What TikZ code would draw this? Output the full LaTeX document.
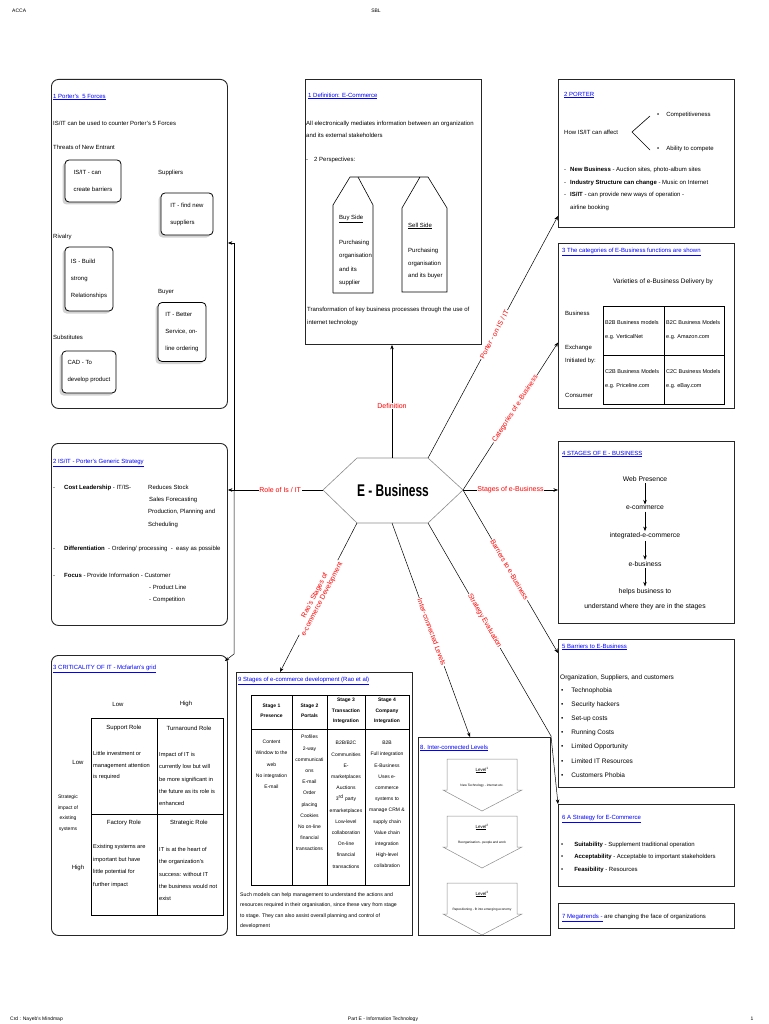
\documentclass[tikz,border=0pt]{standalone}
\usepackage{fontspec}
\setmainfont{Liberation Sans}
\usetikzlibrary{arrows.meta,calc,shadows}

\tikzset{
  panel/.style={draw=black!85, line width=0.9pt, anchor=north west, inner sep=0pt},
  rpanel/.style={panel, rounded corners=7pt},
  txt/.style={anchor=west, inner sep=0pt, align=left, font=\fontsize{6}{12.5}\selectfont},
  ttl/.style={txt, text=blue},
  ctr/.style={inner sep=0pt, align=center, font=\fontsize{6}{12.5}\selectfont},
  forcebox/.style={draw, line width=0.8pt, rounded corners=4pt, fill=white, align=left, inner sep=3pt,
    font=\fontsize{6}{17}\selectfont, drop shadow={fill=black!35, shadow xshift=-2.5pt, shadow yshift=-2.5pt}},
  link/.style={-{Stealth[length=4.5pt,width=3.5pt]}, line width=0.5pt},
  branch/.style={text=red, fill=white, inner sep=0.8pt, font=\fontsize{7}{8}\selectfont},
  stagetxt/.style={inner sep=1.5pt, align=center, font=\fontsize{6.8}{9}\selectfont},
  colbody/.style={anchor=north, inner sep=0pt, align=center, font=\fontsize{5}{11.2}\selectfont},
  chev/.style={draw=black!45, line width=0.5pt},
}

\begin{document}
\begin{tikzpicture}[x=1pt, y=-1pt]
\useasboundingbox (0,0) rectangle (768,1024);

\node[txt, font=\fontsize{5}{6}\selectfont] (hd1) at (12,11) {ACCA};
\node[ctr, font=\fontsize{5}{6}\selectfont] (hd2) at (376,11) {SBL};
\node[txt, font=\fontsize{5}{6}\selectfont] (ft1) at (10,1019) {Crd : Nayeb's Mindmap};
\node[ctr, font=\fontsize{5}{6}\selectfont] (ft2) at (383,1019) {Part E - Information Technology};
\node[ctr, font=\fontsize{5}{6}\selectfont] (ft3) at (752,1019) {1};

\node[rpanel, minimum width=176pt, minimum height=329pt] (forces) at (51,79) {};
\node[rpanel, minimum width=176pt, minimum height=182pt] (isit) at (51,443) {};
\node[rpanel, minimum width=176pt, minimum height=280pt] (crit) at (51,655) {};
\node[panel, minimum width=176pt, minimum height=265pt] (def) at (305,79) {};
\node[panel, minimum width=176pt, minimum height=263pt] (rao) at (236,672) {};
\node[panel, minimum width=132pt, minimum height=198pt] (levels) at (418,737) {};
\node[panel, minimum width=176pt, minimum height=148pt] (porter) at (558,79) {};
\node[panel, minimum width=176pt, minimum height=165pt] (cats) at (558,243) {};
\node[panel, minimum width=176pt, minimum height=182pt] (stages) at (558,441) {};
\node[panel, minimum width=176pt, minimum height=148pt] (barr) at (558,639) {};
\node[panel, minimum width=176pt, minimum height=82pt] (strat) at (558,804) {};
\node[panel, minimum width=176pt, minimum height=25pt] (mega) at (558,903) {};

\node[ttl] (f0) at (53,97) {\underline{1 Porter's\ \ 5 Forces}};
\node[txt] (f1) at (53,123) {IS/IT can be used to counter Porter's 5 Forces};
\node[txt] (f2) at (53,147) {Threats of New Entrant};
\node[forcebox, minimum width=56pt, minimum height=42pt] (fe) at (93,181) {IS/IT - can\\create barriers};
\node[txt] (f3) at (158,173) {Suppliers};
\node[forcebox, minimum width=52pt, minimum height=42pt] (fs) at (187,214) {IT - find new\\suppliers};
\node[txt] (f4) at (53,237) {Rivalry};
\node[forcebox, minimum width=48pt, minimum height=64pt] (fr) at (89,279) {IS - Build\\strong\\Relationships};
\node[txt] (f5) at (158,292) {Buyer};
\node[forcebox, minimum width=48pt, minimum height=59pt] (fb) at (182,332) {IT - Better\\Service, on-\\line ordering};
\node[txt] (f6) at (53,337) {Substitutes};
\node[forcebox, minimum width=54pt, minimum height=42pt] (fc) at (89,372) {CAD - To\\develop product};

\node[ttl] (g0) at (53,463) {\underline{2 IS/IT - Porter's Generic Strategy}};
\node[txt] (g1) at (53,488) {-\hspace{9pt}\textbf{Cost Leadership} - IT/IS-};
\node[txt, font=\fontsize{6}{12.3}\selectfont] (g2) at (148,506) {Reduces Stock\\\hspace{1pt}Sales Forecasting\\Production, Planning and\\Scheduling};
\node[txt] (g3) at (53,549) {-\hspace{9pt}\textbf{Differentiation}\ \ - Ordering/ processing\ \ -\ \ easy as possible};
\node[txt] (g4) at (53,575) {-\hspace{9pt}\textbf{Focus} - Provide Information - Customer};
\node[txt, font=\fontsize{6}{12}\selectfont] (g5) at (149,594) {- Product Line\\- Competition};

\node[ttl] (c0) at (53,669) {\underline{3 CRITICALITY OF IT - Mcfarlan's grid}};
\node[ctr] (c1) at (118,704) {Low};
\node[ctr] (c2) at (186,704) {High};
\draw[line width=0.8pt] (91,718) rectangle (223,915) (157,718) -- (157,915) (91,814) -- (223,814);
\node[ctr] (c3) at (78,762) {Low};
\node[ctr, font=\fontsize{5}{10.5}\selectfont] (c4) at (68,813) {Strategic\\impact of\\existing\\systems};
\node[ctr] (c5) at (78,868) {High};
\node[ctr] (c6) at (124,728) {Support Role};
\node[ctr] (c7) at (189,728) {Turnaround Role};
\node[ctr] (c8) at (124,823) {Factory Role};
\node[ctr] (c9) at (189,823) {Strategic Role};
\node[txt, font=\fontsize{5.7}{11.5}\selectfont] (c10) at (93,766) {Little investment or\\management attention\\is required};
\node[txt, font=\fontsize{5.7}{12.2}\selectfont] (c11) at (159,779) {Impact of IT is\\currently low but will\\be more significant in\\the future as its role is\\enhanced};
\node[txt, font=\fontsize{5.7}{12.4}\selectfont] (c12) at (93,866) {Existing systems are\\important but have\\little potential for\\further impact};
\node[txt, font=\fontsize{5.7}{12.4}\selectfont] (c13) at (159,874) {IT is at the heart of\\the organization's\\success: without IT\\the business would not\\exist};

\node[ttl] (d0) at (308,96) {\underline{1 Definition: E-Commerce}};
\node[txt, font=\fontsize{6}{12}\selectfont] (d1) at (306,129) {All electronically mediates information between an organization\\and its external stakeholders};
\node[txt] (d2) at (306,160) {-\hspace{6pt}2 Perspectives:};
\draw[line width=0.6pt] (333,293) -- (333,205) -- (350,177) -- (428,177) -- (447,208) -- (447,292) -- (402,292) -- (402,208) -- (420,177);
\draw[line width=0.6pt] (358,177) -- (373,205) -- (373,293) -- (333,293);
\node[txt] (d3) at (339,219) {\underline{Buy Side}};
\node[txt, font=\fontsize{6}{13.2}\selectfont] (d4) at (339,263) {Purchasing\\organisation\\and its\\supplier};
\node[txt] (d5) at (408,226) {\underline{Sell Side}};
\node[txt, font=\fontsize{6}{12.6}\selectfont] (d6) at (408,263.5) {Purchasing\\organisation\\and its buyer};
\node[txt, font=\fontsize{6}{12.5}\selectfont] (d7) at (307,316.5) {Transformation of key business processes through the use of\\internet technology};

\node[ttl] (q0) at (238,681) {\underline{9 Stages of e-commerce development (Rao et al)}};
\draw[line width=0.8pt] (251,695) rectangle (409,885) (251,729) -- (409,729) (292,695) -- (292,885)
  (327,695) -- (327,885) (365,695) -- (365,885);
\node[ctr, font=\bfseries\fontsize{5}{10.3}\selectfont] (q1) at (271.5,711) {Stage 1\\Presence};
\node[ctr, font=\bfseries\fontsize{5}{10.3}\selectfont] (q2) at (309.5,711) {Stage 2\\Portals};
\node[ctr, font=\bfseries\fontsize{5}{10.3}\selectfont] (q3) at (346,711) {Stage 3\\Transaction\\Integration};
\node[ctr, font=\bfseries\fontsize{5}{10.3}\selectfont] (q4) at (387,711) {Stage 4\\Company\\Integration};
\node[colbody] (q5) at (271.5,740) {Content\\Window to the\\web\\No integration\\E-mail};
\node[colbody] (q6) at (309.5,735) {Profiles\\2-way\\communicati\\ons\\E-mail\\Order\\placing\\Cookies\\No on-line\\financial\\transactions};
\node[colbody] (q7) at (346,741) {B2B/B2C\\Communities\\E-\\marketplaces\\Auctions\\3\textsuperscript{rd} party\\emarketplaces\\Low-level\\collaboration\\On-line\\financial\\transactions};
\node[colbody] (q8) at (387,741) {B2B\\Full integration\\E-Business\\Uses e-\\commerce\\systems to\\manage CRM \&\\supply chain\\Value chain\\integration\\High-level\\collabration};
\node[txt, font=\fontsize{5.2}{10.5}\selectfont] (q9) at (240,910.5) {Such models can help management to understand the actions and\\resources required in their organisation, since these vary from stage\\to stage. They can also assist overall planning and control of\\development};

\node[ttl] (l0) at (420,748) {\underline{8. Inter-connected Levels}};
\foreach \y/\desc [count=\n] in {759/New Technology - internet etc., 816/Reorganisation - people and work, 883/Repositioning - fit into emerging economy} {
  \draw[chev] (447,\y) -- (517,\y) -- (517,\y+31) -- (522,\y+31) -- (482,\y+52) -- (443,\y+31) -- (447,\y+31) -- cycle;
  \node[ctr, font=\fontsize{4.5}{5}\selectfont] (lv\n) at (482,\y+11) {\underline{Level}\textsuperscript{\n}};
  \node[ctr, font=\fontsize{3.2}{4}\selectfont] (ld\n) at (482,\y+27) {\desc};
}

\node[ttl] (p0) at (564,95) {\underline{2 PORTER}};
\node[txt] (p1) at (564,132) {How IS/IT can affect};
\draw[line width=0.6pt] (650,116) -- (632,132) -- (650,150);
\node[txt] (p2) at (657,115) {\textbullet\hspace{7pt}Competitiveness};
\node[txt] (p3) at (657,149) {\textbullet\hspace{7pt}Ability to compete};
\node[txt, font=\fontsize{6}{12.7}\selectfont] (p4) at (564,189) {-\hspace{4pt}\textbf{New Business} - Auction sites, photo-album sites\\-\hspace{4pt}\textbf{Industry Structure can change} - Music on Internet\\-\hspace{4pt}\textbf{IS/IT} - can provide new ways of operation -\\\hspace{6pt}airline booking};

\node[ttl] (k0) at (562,252) {\underline{3 The categories of E-Business functions are shown}};
\node[ctr, font=\fontsize{6.5}{8}\selectfont] (k1) at (663,282) {Varieties of e-Business Delivery by};
\draw[line width=0.9pt] (603,306) rectangle (724,404) (664,306) -- (664,404) (603,355) -- (724,355);
\node[txt] (k2) at (565,313) {Business};
\node[txt, font=\fontsize{6}{12.5}\selectfont] (k3) at (565,354.5) {Exchange\\Initiated by:};
\node[txt] (k4) at (565,395) {Consumer};
\node[txt, font=\fontsize{5.5}{13.5}\selectfont] (k5) at (605,330) {B2B Business models\\e.g. VerticalNet};
\node[txt, font=\fontsize{5.5}{13.5}\selectfont] (k6) at (666,330) {B2C Business Models\\e.g. Amazon.com};
\node[txt, font=\fontsize{5.5}{13.5}\selectfont] (k7) at (605,379) {C2B Business Models\\e.g. Priceline.com};
\node[txt, font=\fontsize{5.5}{13.5}\selectfont] (k8) at (666,379) {C2C Business Models\\e.g. eBay.com};

\node[ttl] (s0) at (562,454) {\underline{4 STAGES OF E - BUSINESS}};
\node[stagetxt] (s1) at (645,479) {Web Presence};
\node[stagetxt] (s2) at (645,508) {e-commerce};
\node[stagetxt] (s3) at (645,536) {integrated-e-commerce};
\node[stagetxt] (s4) at (645,564) {e-business};
\node[stagetxt, font=\fontsize{6.8}{15.5}\selectfont] (s5) at (645,599) {helps business to\\understand where they are in the stages};
\foreach \a/\b in {s1/s2, s2/s3, s3/s4, s4/s5}
  \draw[link] (\a) -- (\b);

\node[ttl] (b0) at (562,647) {\underline{5 Barriers to E-Business}};
\node[txt, font=\fontsize{6.5}{7}\selectfont] (b1) at (560,678) {Organization, Suppliers, and customers};
\foreach \btxt [count=\i] in {Technophobia, Security hackers, Set-up costs, Running Costs, Limited Opportunity, Limited IT Resources, Customers Phobia}
  \node[txt, font=\fontsize{6.5}{7}\selectfont] (bar\i) at (561,677+14*\i) {\textbullet\hspace{8pt}\btxt};

\node[ttl] (r0) at (562,819) {\underline{6 A Strategy for E-Commerce}};
\node[txt] (r1) at (561,845) {\textbullet\hspace{11pt}\textbf{Suitability} - Supplement traditional operation};
\node[txt] (r2) at (561,857) {\textbullet\hspace{11pt}\textbf{Acceptability} - Acceptable to important stakeholders};
\node[txt] (r3) at (561,870) {\textbullet\hspace{11pt}\textbf{Feasibility} - Resources};

\node[txt] (m0) at (562,918) {\textcolor{blue}{\underline{7 Megatrends -}} are changing the face of organizations};

\coordinate (hl) at (323,490);
\coordinate (htl) at (357,458);
\coordinate (ht) at (392,458);
\coordinate (htr) at (428,458);
\coordinate (hr) at (463,490);
\coordinate (hbr) at (428,523);
\coordinate (hb) at (392,523);
\coordinate (hbl) at (357,523);
\draw[draw=black!45, line width=0.6pt, fill=white] (hl) -- (htl) -- (htr) -- (hr) -- (hbr) -- (hbl) -- cycle;
\node[font=\bfseries\fontsize{13}{14}\selectfont] (hub) at (393,490) {\scalebox{0.92}[1.3]{E - Business}};

\coordinate (spine) at (234,490);
\coordinate (sbend) at (551,736);
\draw[link] (ht) -- node[branch, pos=0.46] (ldef) {Definition} (ht |- def.south);
\draw[link] (htr) -- node[branch, sloped, pos=0.51] (lpor) {Porter - on IS / IT} ($(porter.south west)+(0,-12)$);
\draw[link] (hr) -- node[branch, sloped, pos=0.55] (lcat) {Categories of e-Business} ($(cats.north west)!0.6!(cats.south west)$);
\draw[link] (hr) -- node[branch, pos=0.5] (lsta) {Stages of e-Business} (hr -| stages.west);
\draw[link] (hr) -- node[branch, sloped, pos=0.49] (lbar) {Barriers to e-Business} ($(barr.north west)+(0,14)$);
\draw[link] (hbr) -- node[branch, sloped, pos=0.46] (lstr) {Strategy Evaluation} (sbend) -- (strat.north west);
\draw[link] (hb) -- node[branch, sloped, pos=0.51] (lint) {Inter-connected Levels} ($(levels.north west)+(52,0)$);
\draw[link] (hbl) -- node[branch, sloped, pos=0.5, align=center] (lrao) {Rao's Stages of\\e-commerce Development} ($(rao.north west)+(44,0)$);
\draw[link] (hl) -- node[branch, pos=0.45] (lrole) {Role of Is / IT} (hl -| isit.east);
\draw[link] (spine) |- ($(forces.north east)+(0,164)$);
\draw[link] (spine) -- ++(0,164) -- ($(crit.north east)+(-3,6)$);
\end{tikzpicture}
\end{document}
